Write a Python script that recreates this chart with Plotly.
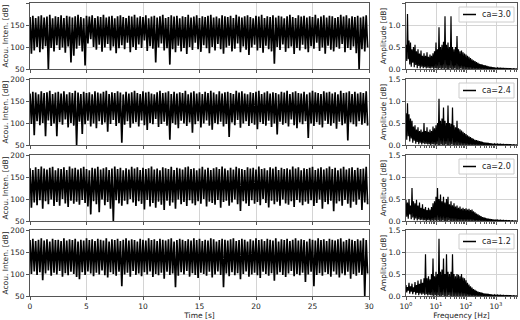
import plotly.graph_objects as go

# ---------------- data ----------------
labels = ["ca=3.0", "ca=2.4", "ca=2.0", "ca=1.2"]
t_step = 0.25          # s per envelope bin
f_step = 0.05          # decades per spectrum bin

hi1 = [168,171,166,170,172,167,169,173,165,170,168,172,166,171,169,167,170,173,168,165,
       171,169,172,166,170,168,173,167,169,171,165,170,172,168,166,171,169,173,167,170,
       168,172,165,169,171,167,170,173,166,168,172,169,171,165,170,168,173,167,169,172,
       166,170,168,171,173,167,169,165,172,170,168,171,166,173,169,167,170,172,168,165,
       171,169,173,166,170,168,172,167,171,169,165,170,173,168,166,172,169,171,167,170,
       168,173,165,169,172,167,171,170,166,168,173,169,172,165,170,168,171,167,169,172]
lo1 = [85,92,100,88,95,102,50,98,90,104,93,99,87,101,65,80,96,103,90,58,
       108,118,100,94,105,89,99,107,92,101,86,97,104,95,110,88,100,93,106,98,
       115,91,102,96,65,99,108,92,97,60,95,88,103,90,98,84,100,93,110,95,
       89,104,97,86,100,92,107,95,85,99,103,90,96,108,88,101,94,82,99,105,
       92,98,87,103,95,90,62,100,93,106,89,97,101,84,98,92,105,95,88,102,
       96,110,91,99,85,103,94,90,100,96,107,88,98,93,101,86,50,95,90,99]

hi2 = [167,171,169,165,172,168,170,173,166,169,171,167,172,165,170,168,173,169,166,171,
       168,170,165,172,169,167,171,173,166,170,168,172,169,165,171,167,170,173,168,166,
       172,169,171,167,165,170,173,168,169,172,166,171,167,170,168,173,165,169,172,167,
       170,166,171,168,173,169,165,172,167,170,171,168,166,173,169,172,167,165,170,168,
       171,173,166,169,172,167,170,168,165,171,169,173,166,170,172,168,167,171,165,169,
       173,170,168,166,172,169,171,167,170,165,173,168,169,172,166,171,167,170,168,172]
lo2 = [98,72,104,95,100,70,106,93,99,70,102,96,108,90,100,94,50,103,75,97,
       105,92,99,88,104,96,101,80,98,107,93,100,55,96,104,89,99,102,92,106,
       95,84,100,97,109,91,98,103,94,62,100,96,88,105,99,93,101,78,97,104,
       90,99,106,94,85,100,97,103,92,98,68,101,95,107,89,99,104,93,100,96,
       86,102,98,94,105,91,99,74,103,96,100,92,108,95,88,101,97,104,66,99,
       93,102,96,90,105,98,94,100,87,103,95,99,60,101,97,92,104,96,100,94]

hi3 = [170,166,172,168,174,169,167,171,173,165,170,168,172,166,174,169,171,167,170,173,
       168,165,171,169,173,167,170,172,166,169,174,168,171,165,170,167,173,169,172,166,
       171,168,170,174,167,169,165,172,170,168,173,166,171,169,167,172,174,168,170,165,
       169,173,167,171,166,170,172,168,174,169,165,171,167,173,170,168,166,172,169,171,
       167,174,168,170,165,172,169,173,166,171,168,170,167,174,169,172,165,170,168,171,
       173,166,169,172,167,170,174,168,171,165,169,173,167,170,172,166,171,168,169,173]
lo3 = [80,92,86,97,78,95,88,99,84,93,85,100,90,82,96,89,94,87,98,91,
       83,65,95,88,70,99,86,93,78,50,97,90,85,96,88,100,92,84,95,89,
       76,98,83,91,80,94,87,75,96,85,92,78,99,88,93,84,97,90,86,95,
       89,100,83,94,91,87,98,80,93,96,85,92,99,88,73,95,90,84,97,89,
       93,86,100,91,81,96,88,94,85,99,90,87,95,82,98,92,86,94,89,97,
       84,91,99,78,93,88,96,72,90,95,85,98,89,80,94,87,99,75,92,88]

hi4 = [177,180,175,178,181,176,179,174,180,177,178,175,181,176,179,177,180,174,178,176,
       181,177,179,175,180,178,176,181,174,179,177,180,175,178,181,176,179,177,174,180,
       178,176,181,177,179,175,180,178,176,179,181,174,177,180,178,175,179,176,181,177,
       180,175,178,176,181,179,174,177,180,178,176,179,181,175,177,180,178,174,179,176,
       181,177,179,175,180,178,176,181,174,179,177,180,175,178,181,176,179,177,174,180,
       178,176,181,177,179,175,180,178,176,179,181,174,177,180,178,175,179,176,181,177]
lo4 = [100,106,98,104,86,101,108,96,103,99,107,94,102,97,105,100,93,88,104,98,
       106,101,95,103,99,108,97,92,104,100,96,105,72,99,103,94,107,98,101,95,
       104,99,106,93,100,97,103,89,105,98,101,70,96,104,99,107,94,102,98,91,
       103,100,96,105,92,99,106,98,70,101,95,104,97,102,88,100,106,94,99,103,
       97,91,105,100,96,102,85,99,104,98,93,101,107,95,100,97,103,82,99,105,
       72,98,102,96,104,100,94,106,99,92,101,97,105,89,100,96,103,98,50,101]

# spectrum envelopes, bins of 0.05 decade from 10^0 Hz
sp1_hi = [0.55,1.25,0.65,0.60,0.45,0.50,0.55,0.40,0.45,0.35,0.42,0.30,0.36,0.30,0.38,0.28,0.33,0.30,0.36,0.40,
          0.60,0.45,0.95,0.50,0.55,0.62,1.20,0.55,0.60,0.50,1.20,0.50,0.45,0.50,0.75,0.45,0.40,0.42,0.38,0.35,
          0.33,0.30,0.28,0.25,0.22,0.20,0.18,0.16,0.14,0.12,0.11,0.10,0.09,0.08,0.07,0.06,0.05,0.045,0.04,0.035,
          0.030,0.027,0.024,0.021,0.018,0.016,0.014,0.012,0.011,0.010,0.009,0.008,0.007,0.006,0.005]
sp1_lo = [0.18,0.22,0.10,0.05,0.14,0.04,0.09,0.02,0.07,0.01,0.05,0.02,0.04,0.01,0.03,0.02,0.01,0.03,0.00,0.02,
          0.01,0.00,0.02,0.00,0.01,0.00,0.01,0.00,0.00,0.01,0.00,0.00,0.01,0.00,0.00,0.00,0.01,0.00,0.00,0.00,
          0.00,0.00,0.00,0.00,0.00,0.00,0.00,0.00,0.00,0.00,0.00,0.00,0.00,0.00,0.00,0.00,0.00,0.00,0.00,0.00,
          0.00,0.00,0.00,0.00,0.00,0.00,0.00,0.00,0.00,0.00,0.00,0.00,0.00,0.00,0.00]

sp2_hi = [0.72,0.95,0.70,0.60,0.55,0.42,0.45,0.35,0.40,0.32,0.35,0.30,0.50,0.32,0.40,0.30,0.35,0.32,0.42,0.38,
          0.45,0.50,1.05,0.55,0.60,0.85,0.55,0.50,0.90,0.50,0.48,0.85,0.45,0.40,0.55,0.38,0.36,0.33,0.30,0.27,
          0.25,0.22,0.20,0.18,0.16,0.14,0.12,0.11,0.10,0.09,0.08,0.07,0.06,0.055,0.05,0.045,0.04,0.035,0.03,0.027,
          0.024,0.022,0.020,0.018,0.016,0.014,0.013,0.012,0.011,0.010,0.009,0.008,0.007,0.006,0.005]
sp2_lo = [0.12,0.20,0.08,0.15,0.05,0.10,0.03,0.07,0.02,0.05,0.01,0.04,0.02,0.03,0.01,0.02,0.00,0.02,0.01,0.00,
          0.01,0.00,0.00,0.01,0.00,0.00,0.01,0.00,0.00,0.00,0.01,0.00,0.00,0.00,0.00,0.00,0.00,0.00,0.00,0.00,
          0.00,0.00,0.00,0.00,0.00,0.00,0.00,0.00,0.00,0.00,0.00,0.00,0.00,0.00,0.00,0.00,0.00,0.00,0.00,0.00,
          0.00,0.00,0.00,0.00,0.00,0.00,0.00,0.00,0.00,0.00,0.00,0.00,0.00,0.00,0.00]

sp3_hi = [0.48,0.42,0.50,0.35,0.75,0.45,0.40,0.48,0.35,0.42,0.30,0.38,0.28,0.32,0.25,0.30,0.26,0.32,0.40,0.45,
          0.55,0.75,0.50,0.60,0.45,0.55,0.42,0.50,0.55,0.38,0.45,0.36,0.40,0.33,0.35,0.30,0.33,0.28,0.30,0.27,
          0.29,0.26,0.28,0.25,0.26,0.22,0.20,0.17,0.15,0.13,0.11,0.09,0.08,0.07,0.06,0.05,0.045,0.04,0.035,0.03,
          0.026,0.023,0.020,0.018,0.016,0.014,0.012,0.011,0.010,0.009,0.008,0.007,0.006,0.005,0.004]
sp3_lo = [0.10,0.05,0.15,0.04,0.08,0.02,0.06,0.01,0.04,0.02,0.03,0.01,0.02,0.00,0.02,0.01,0.00,0.01,0.00,0.01,
          0.00,0.01,0.00,0.00,0.01,0.00,0.00,0.00,0.01,0.00,0.00,0.00,0.00,0.00,0.00,0.00,0.00,0.00,0.00,0.00,
          0.00,0.00,0.00,0.00,0.00,0.00,0.00,0.00,0.00,0.00,0.00,0.00,0.00,0.00,0.00,0.00,0.00,0.00,0.00,0.00,
          0.00,0.00,0.00,0.00,0.00,0.00,0.00,0.00,0.00,0.00,0.00,0.00,0.00,0.00,0.00]

sp4_hi = [0.25,0.20,0.30,0.22,0.28,0.20,0.32,0.25,0.35,0.28,0.38,0.30,0.40,0.95,0.40,0.45,0.38,0.50,0.85,0.45,
          0.55,0.50,1.30,0.55,0.60,0.85,0.50,0.95,0.55,0.50,0.55,0.95,0.50,0.45,0.50,0.48,0.45,0.50,0.42,0.40,
          0.36,0.30,0.26,0.22,0.19,0.16,0.14,0.12,0.10,0.09,0.08,0.07,0.06,0.055,0.05,0.045,0.04,0.035,0.03,0.027,
          0.024,0.022,0.020,0.018,0.016,0.014,0.013,0.012,0.011,0.010,0.009,0.008,0.007,0.006,0.005]
sp4_lo = [0.08,0.12,0.05,0.10,0.04,0.09,0.03,0.07,0.02,0.06,0.03,0.05,0.02,0.04,0.01,0.03,0.02,0.01,0.00,0.02,
          0.00,0.01,0.00,0.00,0.01,0.00,0.00,0.00,0.01,0.00,0.00,0.00,0.00,0.00,0.00,0.00,0.00,0.00,0.00,0.00,
          0.00,0.00,0.00,0.00,0.00,0.00,0.00,0.00,0.00,0.00,0.00,0.00,0.00,0.00,0.00,0.00,0.00,0.00,0.00,0.00,
          0.00,0.00,0.00,0.00,0.00,0.00,0.00,0.00,0.00,0.00,0.00,0.00,0.00,0.00,0.00]

time_hi = [hi1, hi2, hi3, hi4]
time_lo = [lo1, lo2, lo3, lo4]
spec_hi = [sp1_hi, sp2_hi, sp3_hi, sp4_hi]
spec_lo = [sp1_lo, sp2_lo, sp3_lo, sp4_lo]

# ---------------- helpers ----------------
def zigzag(hi, lo, step):
    xs, ys = [], []
    for i, (h, l) in enumerate(zip(hi, lo)):
        xs += [i * step, i * step + step / 2]
        ys += [h, l]
    return xs, ys

W, H = 520, 320
FONT = "DejaVu Sans"
FS = 7.5
rows_px = [(3, 69), (79, 145), (155, 221), (230, 296)]
left_dom = [30 / W, 369 / W]
right_dom = [406 / W, 517 / W]
AX = "#555555"
GRID = "#d4d4d4"

fig = go.Figure()
layout = dict(
    width=W, height=H,
    margin=dict(l=0, r=0, t=0, b=0),
    paper_bgcolor="white", plot_bgcolor="white",
    font=dict(family=FONT, size=FS, color="#222222"),
    showlegend=False,
)

common = dict(showline=True, mirror=True, linecolor=AX, linewidth=1,
              ticks="outside", ticklen=3, tickwidth=1, tickcolor=AX,
              showgrid=True, gridcolor=GRID, gridwidth=1, zeroline=False,
              automargin=False, tickfont=dict(size=FS, family=FONT, color="#222"))

shapes, annotations = [], []

for r in range(4):
    top, bot = rows_px[r]
    ydom = [1 - bot / H, 1 - top / H]
    a_l, a_r = 2 * r + 1, 2 * r + 2
    last = (r == 3)

    # time series
    tx, ty = zigzag(time_hi[r], time_lo[r], t_step)
    fig.add_trace(go.Scatter(x=tx, y=ty, mode="lines",
                             line=dict(color="black", width=1.7),
                             xaxis=f"x{a_l}", yaxis=f"y{a_l}",
                             showlegend=False, hoverinfo="skip"))
    # spectrum
    fx, fy = zigzag(spec_hi[r], spec_lo[r], f_step)
    fx = [10 ** v for v in fx]
    fig.add_trace(go.Scatter(x=fx, y=fy, mode="lines", name=labels[r],
                             line=dict(color="black", width=1.2),
                             xaxis=f"x{a_r}", yaxis=f"y{a_r}",
                             hoverinfo="skip"))

    xl = dict(common, domain=left_dom, anchor=f"y{a_l}",
              range=[0, 30], tickvals=[0, 5, 10, 15, 20, 25, 30],
              showticklabels=last)
    xr = dict(common, domain=right_dom, anchor=f"y{a_r}",
              type="log", range=[0, 3.7],
              tickvals=[1, 10, 100, 1000],
              ticktext=["10<sup>0</sup>", "10<sup>1</sup>",
                        "10<sup>2</sup>", "10<sup>3</sup>"],
              showticklabels=last,
              minor=dict(ticks="outside", ticklen=2, tickcolor=AX,
                         dtick="D1", showgrid=False))
    if last:
        xl["title"] = dict(text="Time [s]", standoff=4, font=dict(size=FS))
        xr["title"] = dict(text="Frequency [Hz]", standoff=1, font=dict(size=FS))
    layout[f"xaxis{a_l}"] = xl
    layout[f"xaxis{a_r}"] = xr
    layout[f"yaxis{a_l}"] = dict(common, domain=ydom, anchor=f"x{a_l}",
                                 range=[50, 200], tickvals=[50, 100, 150, 200],
                                 title=dict(text="Acou. Inten. [dB]", standoff=0,
                                            font=dict(size=FS)))
    layout[f"yaxis{a_r}"] = dict(common, domain=ydom, anchor=f"x{a_r}",
                                 range=[0, 1.5], tickvals=[0, 0.5, 1.0, 1.5],
                                 ticktext=["0.0", "0.5", "1.0", "1.5"],
                                 title=dict(text="Amplitude [dB]", standoff=0,
                                            font=dict(size=FS)))

    # legend frame, line sample and label (matplotlib-style legend per panel)
    bx0, bx1 = 459 / W, 514 / W
    by1 = 1 - (top + 4) / H
    by0 = 1 - (top + 19) / H
    ym = (by0 + by1) / 2
    shapes.append(dict(type="rect", xref="paper", yref="paper",
                       x0=bx0, x1=bx1, y0=by0, y1=by1,
                       line=dict(color="#cccccc", width=1),
                       fillcolor="rgba(255,255,255,0.85)", layer="above"))
    shapes.append(dict(type="line", xref="paper", yref="paper",
                       x0=463 / W, x1=476 / W, y0=ym, y1=ym,
                       line=dict(color="black", width=1.5), layer="above"))
    annotations.append(dict(xref="paper", yref="paper", x=480 / W, y=ym,
                            xanchor="left", yanchor="middle", showarrow=False,
                            text=labels[r],
                            font=dict(size=8, family=FONT, color="#222")))

layout["shapes"] = shapes
layout["annotations"] = annotations
fig.update_layout(**layout)
fig.write_html("out.html",
               config={"displayModeBar": False, "staticPlot": True},
               post_script="document.body.style.margin='0';"
                           "document.body.style.overflow='hidden';")
